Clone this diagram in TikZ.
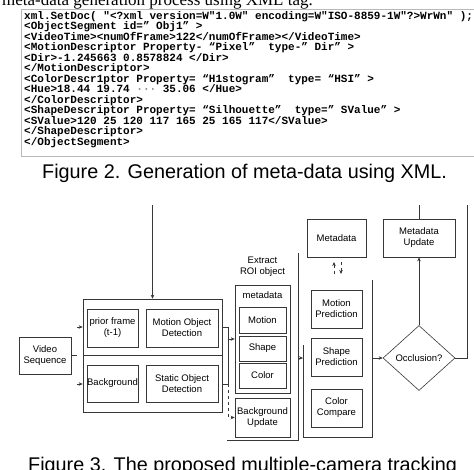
\documentclass[tikz,border=0pt]{standalone}
\usepackage{fontspec}
\setmainfont{Liberation Sans}
\newfontfamily\xmlfont{Liberation Mono}
\newfontfamily\bodyfont{Liberation Serif}
\usetikzlibrary{shapes.geometric,arrows.meta}
\definecolor{linegray}{RGB}{55,55,55}
\definecolor{framegray}{RGB}{185,185,185}
\tikzset{
  blk/.style={draw=linegray, line width=0.6pt, fill=white, inner sep=0pt, align=center, font=\fontsize{9.5}{11}\selectfont},
  lbl/.style={inner sep=0pt, align=center, font=\fontsize{9.5}{11}\selectfont},
  arr/.style={draw=linegray, line width=0.6pt, -{Stealth[length=4pt,width=3.5pt]}},
  ln/.style={draw=linegray, line width=0.6pt},
  xmlline/.style={anchor=base west, inner sep=0pt, font=\xmlfont\bfseries\fontsize{11}{10.5}\selectfont},
  caption/.style={anchor=base west, inner sep=0pt, font=\fontsize{19.8}{20}\selectfont},
}
\begin{document}
\begin{tikzpicture}[x=1pt,y=-1pt]
\useasboundingbox (0,0) rectangle (474,469);
% text cut off above the listing
\node[anchor=base west, inner sep=0pt, font=\bodyfont\fontsize{17}{17}\selectfont] (bodytxt) at (2,5) {meta-data generation process using XML tag.};
% listing
\draw[framegray, line width=0.8pt] (480,9) -- (21,9) -- (21,156) -- (480,156);
\foreach \txt [count=\i] in {
  xml.SetDoc( "<?xml version=W"1.0W" encoding=W"ISO-8859-1W"?>WrWn" );,
  <ObjectSegment id=” Obj1” >,
  <VideoTime><numOfFrame>122</numOfFrame></VideoTime>,
  <MotionDescriptor Property- “Pixel”\ \ type-” Dir” >,
  <Dir>-1.245663 0.8578824 </Dir>,
  </MotionDescriptor>,
  <ColorDescr1ptor Property= “H1stogram”\ \ type= “HSI” >,
  <Hue>18.44 19.74 {\color{gray}···} 35.06 </Hue>,
  </ColorDescriptor>,
  <ShapeDescriptor Property= “Silhouette”\ \ type=” SValue” >,
  <SValue>120 25 120 117 165 25 165 117</SValue>,
  </ShapeDescriptor>,
  </ObjectSegment>}
  \node[xmlline] (xml\i) at (24,{19+10.5*(\i-1)}) {\txt};
\node[caption] (cap2) at (42,178) {Figure 2. Generation of meta-data using XML.};

% detection stage
\node[blk, minimum width=52, minimum height=37] (video) at (45,355.5) {Video\\Sequence};
\node[blk, minimum width=139, minimum height=113] (main) at (152.5,355.5) {};
\draw[ln] (main.west) -- (main.east);
\node[blk, minimum width=51, minimum height=38] (prior) at (112.5,328) {prior frame\\(t-1)};
\node[blk, minimum width=72, minimum height=38] (motdet) at (182,328) {Motion Object\\Detection};
\node[blk, minimum width=51, minimum height=37] (backg) at (112.5,383.5) {Background};
\node[blk, minimum width=72, minimum height=37] (statdet) at (182,383.5) {Static Object\\Detection};

% ROI extraction
\node[lbl] (extract) at (262.5,267) {Extract\\ROI object};
\node[blk, minimum width=55, minimum height=108] (roi) at (262.5,339) {};
\node[lbl] (roilbl) at (262.5,295.5) {metadata};
\node[blk, minimum width=47, minimum height=26] (motion) at (262.5,320) {Motion};
\node[blk, minimum width=47, minimum height=25] (shape) at (262.5,348.5) {Shape};
\node[blk, minimum width=47, minimum height=25] (color) at (262.5,375.5) {Color};
\node[blk, minimum width=55, minimum height=39] (bgupd) at (262.5,417.5) {Background\\Update};
\draw[ln] (298,253) -- (298,440) -- (227,440);

% prediction
\node[blk, minimum width=59, minimum height=38] (meta) at (336.5,238) {Metadata};
\node[blk, minimum width=51, minimum height=38] (mpred) at (336.5,309) {Motion\\Prediction};
\node[blk, minimum width=51, minimum height=38] (spred) at (336.5,357) {Shape\\Prediction};
\node[blk, minimum width=51, minimum height=38] (ccomp) at (336.5,408) {Color\\Compare};
\draw[ln] (372,280) -- (372,437) -- (303,437) -- (303,345);
\draw[arr, dashed] (334,274) -- (334,262);
\draw[arr, dashed] (341,262) -- (341,274);

% occlusion handling
\node[blk, diamond, minimum width=72, minimum height=65] (occ) at (419,358) {Occlusion?};
\node[blk, minimum width=72, minimum height=38] (mupd) at (419,238) {Metadata\\Update};

% connectors
\coordinate (fbtop) at (152.5,205);
\draw[arr] (fbtop) -- (main.north);
\coordinate (vsplit) at (77,355.5);
\coordinate (inA) at (77,327);
\coordinate (inB) at (77,384);
\draw[ln] (video.east) -- (vsplit);
\draw[arr] (inA) -- (inA -| main.west);
\draw[arr] (inB) -- (inB -| main.west);
\coordinate (mergeA) at (228,327);
\coordinate (mergeB) at (228,384);
\draw[ln] (mergeA -| main.east) -- (mergeA) -- (mergeB) -- (mergeB -| main.east);
\draw[arr] (mergeA |- roi.west) -- (roi.west);
\draw[arr, dashed] (mergeB) -- (mergeB |- bgupd.west) -- (bgupd.west);
\coordinate (roiout) at (298,358);
\coordinate (predin) at (303,358);
\draw[arr] (roiout) -- (predin);
\coordinate (predout) at (372,358);
\draw[arr] (predout) -- (occ.west);
\draw[arr] (occ.north) -- (mupd.south);
\coordinate (uptop) at (419,205);
\draw[ln] (mupd.north) -- (uptop);
\coordinate (rtop) at (467,205);
\draw[ln] (occ.east) -- (occ.east -| rtop) -- (rtop);

\node[caption] (cap3) at (28,471) {Figure 3. The proposed multiple-camera tracking};
\end{tikzpicture}
\end{document}
